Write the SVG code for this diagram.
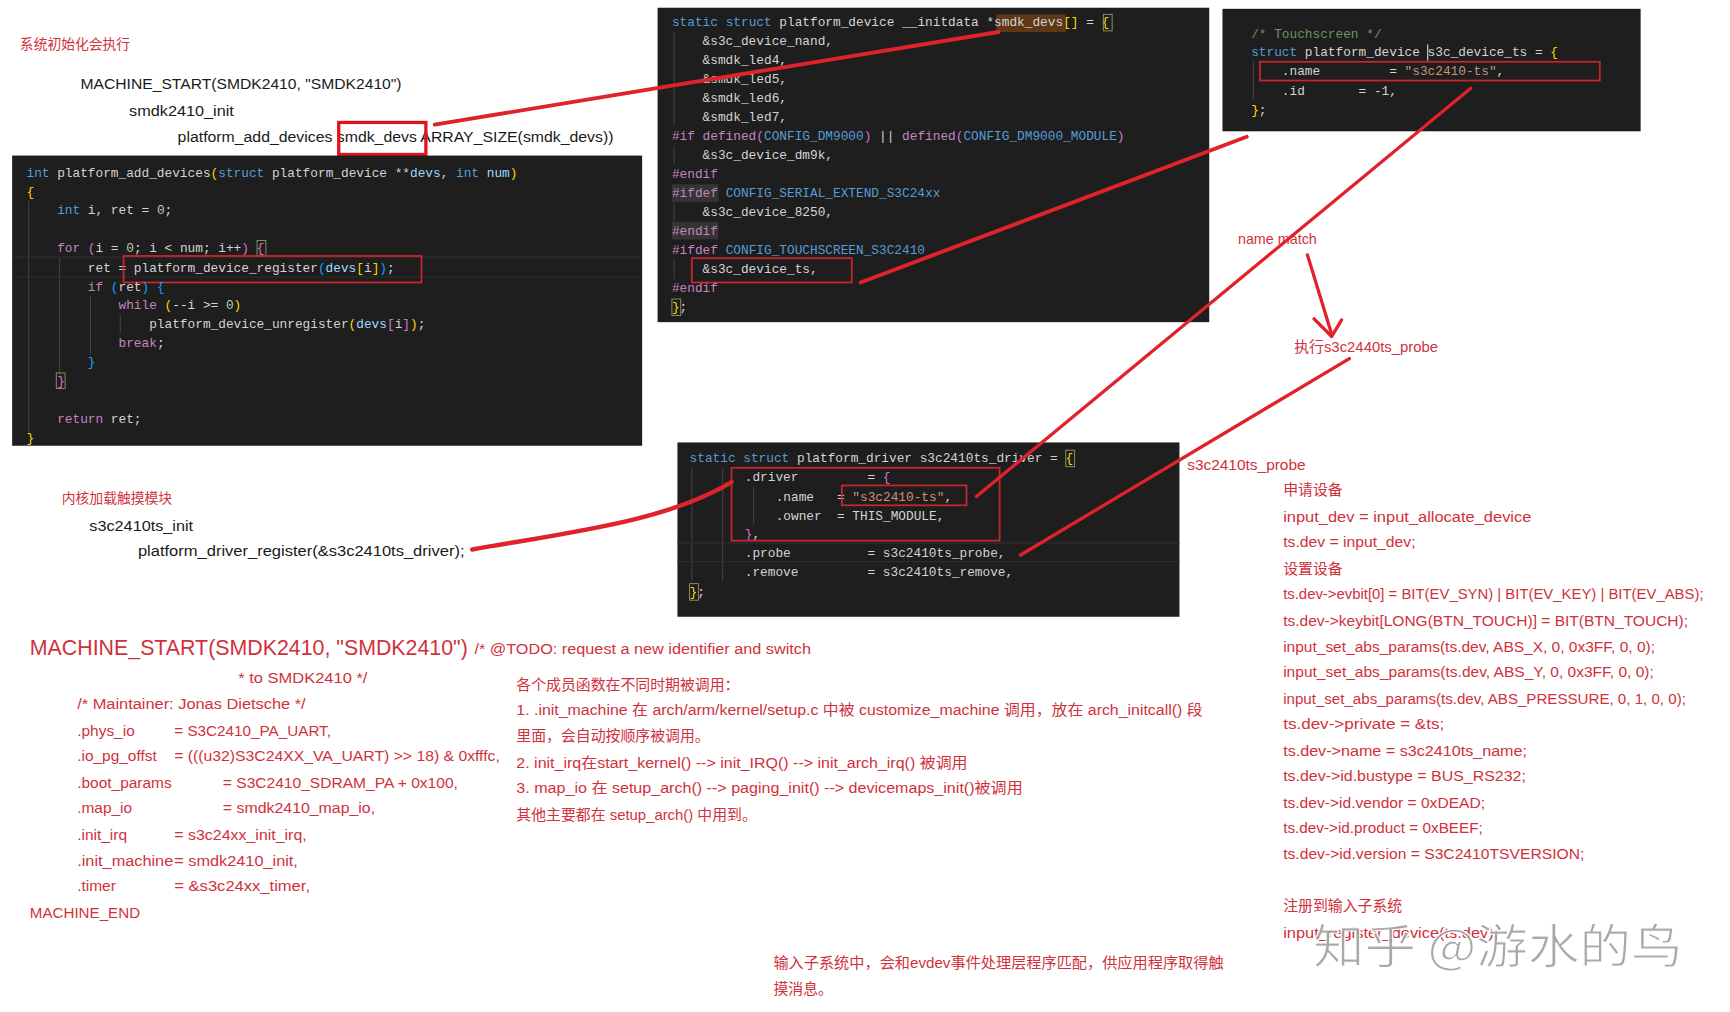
<svg xmlns="http://www.w3.org/2000/svg" width="1730" height="1012" viewBox="0 0 1730 1012">
<style>
.code{font-family:"Liberation Mono","DejaVu Sans Mono",monospace;font-size:11.6px;fill:#d4d4d4;white-space:pre}
.kw{fill:#569cd6}.ctl{fill:#c586c0}.v{fill:#9cdcfe}.num{fill:#b5cea8}.str{fill:#ce9178}.cm{fill:#6a9955}
.by{fill:#ffd700}.bp{fill:#da70d6}.bb{fill:#179fff}
.panel{fill:#1e1e1e}
.guide{stroke:#404040;stroke-width:1}
.red{font-family:"Liberation Sans","Noto Sans CJK SC",sans-serif;fill:#d0313c;font-size:13.5px}
.r14{font-size:14px}
.blk{font-family:"Liberation Sans","Noto Sans CJK SC",sans-serif;fill:#1a1a1a;font-size:14px}
.box{fill:none;stroke:#c8262e;stroke-width:1.6}
.conn{fill:none;stroke:#e0232b;stroke-linecap:round;stroke-linejoin:round;stroke-width:3.5}
.bm{fill:none;stroke:#9a9a6a;stroke-width:0.8}
</style>
<rect width="1730" height="1012" fill="#ffffff"/>
<g transform="scale(1.10332)">

<g id="intro">
<text class="red" x="18" y="44" style="font-size:12.5px">系统初始化会执行</text>
<text class="blk" x="73" y="81" textLength="291" lengthAdjust="spacingAndGlyphs">MACHINE_START(SMDK2410, "SMDK2410")</text>
<text class="blk" x="117" y="105" textLength="95" lengthAdjust="spacingAndGlyphs">smdk2410_init</text>
<text class="blk" x="161" y="129" textLength="395" lengthAdjust="spacingAndGlyphs">platform_add_devices smdk_devs ARRAY_SIZE(smdk_devs))</text>
<rect x="307" y="111" width="79" height="29" fill="none" stroke="#e0141e" stroke-width="3"/>
</g>

<g id="add-devices-code">
<rect class="panel" x="11" y="141" width="571" height="263"/>
<line class="guide" x1="26" y1="182" x2="26" y2="392"/>
<line class="guide" x1="54" y1="234" x2="54" y2="340"/>
<line class="guide" x1="82" y1="268" x2="82" y2="322"/>
<line class="guide" x1="109" y1="285" x2="109" y2="302"/>
<line x1="11" y1="233" x2="582" y2="233" stroke="#2c2c2c"/>
<line x1="11" y1="251" x2="582" y2="251" stroke="#2c2c2c"/>
<text class="code" xml:space="preserve" x="24" y="160"><tspan class="kw">int</tspan> platform_add_devices<tspan class="by">(</tspan><tspan class="kw">struct</tspan> platform_device **<tspan class="v">devs</tspan>, <tspan class="kw">int</tspan> <tspan class="v">num</tspan><tspan class="by">)</tspan></text>
<text class="code" xml:space="preserve" x="24" y="177.2"><tspan class="by">{</tspan></text>
<text class="code" xml:space="preserve" x="24" y="194.4">    <tspan class="kw">int</tspan> i, ret = <tspan class="num">0</tspan>;</text>
<text class="code" xml:space="preserve" x="24" y="228.8">    <tspan class="ctl">for</tspan> <tspan class="bp">(</tspan>i = <tspan class="num">0</tspan>; i &lt; num; i++<tspan class="bp">)</tspan> <tspan class="bp">{</tspan></text>
<rect class="bm" x="233" y="218" width="8" height="14"/>
<text class="code" xml:space="preserve" x="24" y="246.1">        ret = platform_device_register<tspan class="bb">(</tspan><tspan class="v">devs</tspan><tspan class="by">[</tspan>i<tspan class="by">]</tspan><tspan class="bb">)</tspan>;</text>
<rect x="112" y="232" width="270" height="24" class="box"/>
<text class="code" xml:space="preserve" x="24" y="263.3">        <tspan class="ctl">if</tspan> <tspan class="bb">(</tspan>ret<tspan class="bb">)</tspan> <tspan class="bb">{</tspan></text>
<text class="code" xml:space="preserve" x="24" y="280.5">            <tspan class="ctl">while</tspan> <tspan class="by">(</tspan>--i &gt;= <tspan class="num">0</tspan><tspan class="by">)</tspan></text>
<text class="code" xml:space="preserve" x="24" y="297.7">                platform_device_unregister<tspan class="by">(</tspan><tspan class="v">devs</tspan><tspan class="bp">[</tspan>i<tspan class="bp">]</tspan><tspan class="by">)</tspan>;</text>
<text class="code" xml:space="preserve" x="24" y="314.9">            <tspan class="ctl">break</tspan>;</text>
<text class="code" xml:space="preserve" x="24" y="332.1">        <tspan class="bb">}</tspan></text>
<text class="code" xml:space="preserve" x="24" y="349.3">    <tspan class="bp">}</tspan></text>
<rect class="bm" x="51" y="338" width="8" height="14"/>
<text class="code" xml:space="preserve" x="24" y="383.7">    <tspan class="ctl">return</tspan> ret;</text>
<text class="code" xml:space="preserve" x="24" y="400.9"><tspan class="by">}</tspan></text>
</g>

<g id="smdk-devs-code">
<rect class="panel" x="596" y="7" width="500" height="285"/>
<line class="guide" x1="611" y1="29" x2="611" y2="114"/>
<line class="guide" x1="611" y1="132" x2="611" y2="149"/>
<line class="guide" x1="611" y1="184" x2="611" y2="201"/>
<line class="guide" x1="611" y1="235" x2="611" y2="253"/>
<rect x="903" y="13" width="63" height="16" fill="#5e3717"/>
<rect x="609" y="167" width="42" height="16" fill="#343434"/>
<rect x="609" y="201" width="42" height="16" fill="#343434"/>
<text class="code" xml:space="preserve" x="609" y="24"><tspan class="kw">static</tspan> <tspan class="kw">struct</tspan> platform_device __initdata *smdk_devs<tspan class="by">[]</tspan> = <tspan class="by">{</tspan></text>
<rect class="bm" x="1000" y="13" width="8" height="15"/>
<text class="code" xml:space="preserve" x="609" y="41.2">    &amp;s3c_device_nand,</text>
<text class="code" xml:space="preserve" x="609" y="58.4">    &amp;smdk_led4,</text>
<text class="code" xml:space="preserve" x="609" y="75.6">    &amp;smdk_led5,</text>
<text class="code" xml:space="preserve" x="609" y="92.8">    &amp;smdk_led6,</text>
<text class="code" xml:space="preserve" x="609" y="110">    &amp;smdk_led7,</text>
<text class="code" xml:space="preserve" x="609" y="127.2"><tspan class="ctl">#if defined</tspan><tspan class="bp">(</tspan><tspan class="kw">CONFIG_DM9000</tspan><tspan class="bp">)</tspan> || <tspan class="ctl">defined</tspan><tspan class="bp">(</tspan><tspan class="kw">CONFIG_DM9000_MODULE</tspan><tspan class="bp">)</tspan></text>
<text class="code" xml:space="preserve" x="609" y="144.4">    &amp;s3c_device_dm9k,</text>
<text class="code" xml:space="preserve" x="609" y="161.6"><tspan class="ctl">#endif</tspan></text>
<text class="code" xml:space="preserve" x="609" y="178.8"><tspan class="ctl">#ifdef</tspan> <tspan class="kw">CONFIG_SERIAL_EXTEND_S3C24xx</tspan></text>
<text class="code" xml:space="preserve" x="609" y="196">    &amp;s3c_device_8250,</text>
<text class="code" xml:space="preserve" x="609" y="213.2"><tspan class="ctl">#endif</tspan></text>
<text class="code" xml:space="preserve" x="609" y="230.4"><tspan class="ctl">#ifdef</tspan> <tspan class="kw">CONFIG_TOUCHSCREEN_S3C2410</tspan></text>
<text class="code" xml:space="preserve" x="609" y="247.6">    &amp;s3c_device_ts,</text>
<rect x="627" y="234" width="145" height="22" class="box"/>
<text class="code" xml:space="preserve" x="609" y="264.8"><tspan class="ctl">#endif</tspan></text>
<text class="code" xml:space="preserve" x="609" y="282"><tspan class="by">}</tspan>;</text>
<rect class="bm" x="609" y="271" width="8" height="15"/>
</g>

<g id="device-ts-code">
<rect class="panel" x="1108" y="8" width="379" height="111"/>
<line class="guide" x1="1136" y1="56" x2="1136" y2="91"/>
<text class="code" xml:space="preserve" x="1134" y="34"><tspan class="cm">/* Touchscreen */</tspan></text>
<text class="code" xml:space="preserve" x="1134" y="51"><tspan class="kw">struct</tspan> platform_device s3c_device_ts = <tspan class="by">{</tspan></text>
<line x1="1294" y1="40" x2="1294" y2="55" stroke="#d4d4d4" stroke-width="1"/>
<text class="code" xml:space="preserve" x="1134" y="68">    .name         = <tspan class="str">"s3c2410-ts"</tspan>,</text>
<rect x="1142" y="56" width="308" height="17" class="box"/>
<text class="code" xml:space="preserve" x="1134" y="86">    .id       = -1,</text>
<text class="code" xml:space="preserve" x="1134" y="103"><tspan class="by">}</tspan>;</text>
</g>

<g id="driver-code">
<rect class="panel" x="614" y="401" width="455" height="158"/>
<line class="guide" x1="627" y1="424" x2="627" y2="527"/>
<line class="guide" x1="655" y1="424" x2="655" y2="527"/>
<line class="guide" x1="683" y1="441" x2="683" y2="475"/>
<line x1="614" y1="492" x2="1069" y2="492" stroke="#2c2c2c"/>
<line x1="614" y1="509" x2="1069" y2="509" stroke="#2c2c2c"/>
<text class="code" xml:space="preserve" x="625" y="419"><tspan class="kw">static</tspan> <tspan class="kw">struct</tspan> platform_driver s3c2410ts_driver = <tspan class="by">{</tspan></text>
<rect class="bm" x="966" y="408" width="8" height="15"/>
<text class="code" xml:space="preserve" x="675" y="436">.driver         = <tspan class="bp">{</tspan></text>
<text class="code" xml:space="preserve" x="703" y="454">.name   = <tspan class="str">"s3c2410-ts"</tspan>,</text>
<text class="code" xml:space="preserve" x="703" y="471">.owner  = THIS_MODULE,</text>
<text class="code" xml:space="preserve" x="675" y="488"><tspan class="bp">}</tspan>,</text>
<text class="code" xml:space="preserve" x="675" y="505">.probe          = s3c2410ts_probe,</text>
<text class="code" xml:space="preserve" x="675" y="522">.remove         = s3c2410ts_remove,</text>
<text class="code" xml:space="preserve" x="625" y="540"><tspan class="by">}</tspan>;</text>
<rect class="bm" x="625" y="529" width="8" height="15"/>
<rect x="663" y="424" width="243" height="66" class="box"/>
<rect x="763" y="440" width="113" height="18" class="box"/>
</g>

<g id="probe-labels">
<text class="red" x="1122" y="221" style="font-size:13px">name match</text>
<text class="red" x="1173" y="319">执行s3c2440ts_probe</text>
</g>

<g id="probe-steps">
<text class="red r14" x="1076" y="426">s3c2410ts_probe</text>
<text class="red" x="1163" y="449">申请设备</text>
<text class="red" x="1163" y="473" textLength="225" lengthAdjust="spacingAndGlyphs">input_dev = input_allocate_device</text>
<text class="red" x="1163" y="496" textLength="120" lengthAdjust="spacingAndGlyphs">ts.dev = input_dev;</text>
<text class="red" x="1163" y="520">设置设备</text>
<text class="red" x="1163" y="543" textLength="381" lengthAdjust="spacingAndGlyphs">ts.dev-&gt;evbit[0] = BIT(EV_SYN) | BIT(EV_KEY) | BIT(EV_ABS);</text>
<text class="red" x="1163" y="567" textLength="367" lengthAdjust="spacingAndGlyphs">ts.dev-&gt;keybit[LONG(BTN_TOUCH)] = BIT(BTN_TOUCH);</text>
<text class="red" x="1163" y="591" textLength="337" lengthAdjust="spacingAndGlyphs">input_set_abs_params(ts.dev, ABS_X, 0, 0x3FF, 0, 0);</text>
<text class="red" x="1163" y="614" textLength="336" lengthAdjust="spacingAndGlyphs">input_set_abs_params(ts.dev, ABS_Y, 0, 0x3FF, 0, 0);</text>
<text class="red" x="1163" y="638" textLength="365" lengthAdjust="spacingAndGlyphs">input_set_abs_params(ts.dev, ABS_PRESSURE, 0, 1, 0, 0);</text>
<text class="red" x="1163" y="661" textLength="146" lengthAdjust="spacingAndGlyphs">ts.dev-&gt;private = &amp;ts;</text>
<text class="red" x="1163" y="685" textLength="221" lengthAdjust="spacingAndGlyphs">ts.dev-&gt;name = s3c2410ts_name;</text>
<text class="red" x="1163" y="708" textLength="220" lengthAdjust="spacingAndGlyphs">ts.dev-&gt;id.bustype = BUS_RS232;</text>
<text class="red" x="1163" y="732" textLength="183" lengthAdjust="spacingAndGlyphs">ts.dev-&gt;id.vendor = 0xDEAD;</text>
<text class="red" x="1163" y="755" textLength="181" lengthAdjust="spacingAndGlyphs">ts.dev-&gt;id.product = 0xBEEF;</text>
<text class="red" x="1163" y="779" textLength="273" lengthAdjust="spacingAndGlyphs">ts.dev-&gt;id.version = S3C2410TSVERSION;</text>
<text class="red" x="1163" y="826">注册到输入子系统</text>
<text class="red" x="1163" y="850" textLength="195" lengthAdjust="spacingAndGlyphs">input_register_device(ts.dev);</text>
</g>

<g id="module-init">
<text class="red" x="56" y="456" style="font-size:12.5px">内核加载触摸模块</text>
<text class="blk" x="81" y="481" textLength="94" lengthAdjust="spacingAndGlyphs">s3c2410ts_init</text>
<text class="blk" x="125" y="504" textLength="296" lengthAdjust="spacingAndGlyphs">platform_driver_register(&amp;s3c2410ts_driver);</text>
</g>

<g id="machine-desc">
<text class="red" x="27" y="594" style="font-size:19.5px" textLength="397" lengthAdjust="spacingAndGlyphs">MACHINE_START(SMDK2410, "SMDK2410")</text>
<text class="red r14" x="430" y="593" textLength="305" lengthAdjust="spacingAndGlyphs">/* @TODO: request a new identifier and switch</text>
<text class="red r14" x="216" y="619" textLength="117" lengthAdjust="spacingAndGlyphs">* to SMDK2410 */</text>
<text class="red r14" x="70" y="643" textLength="207" lengthAdjust="spacingAndGlyphs">/* Maintainer: Jonas Dietsche */</text>
<text class="red r14" x="70" y="667">.phys_io</text>
<text class="red r14" x="158" y="667" textLength="142" lengthAdjust="spacingAndGlyphs">= S3C2410_PA_UART,</text>
<text class="red r14" x="70" y="690">.io_pg_offst</text>
<text class="red r14" x="158" y="690" textLength="295" lengthAdjust="spacingAndGlyphs">= (((u32)S3C24XX_VA_UART) &gt;&gt; 18) &amp; 0xfffc,</text>
<text class="red r14" x="70" y="714">.boot_params</text>
<text class="red r14" x="202" y="714" textLength="213" lengthAdjust="spacingAndGlyphs">= S3C2410_SDRAM_PA + 0x100,</text>
<text class="red r14" x="70" y="737">.map_io</text>
<text class="red r14" x="202" y="737" textLength="138" lengthAdjust="spacingAndGlyphs">= smdk2410_map_io,</text>
<text class="red r14" x="70" y="761">.init_irq</text>
<text class="red r14" x="158" y="761" textLength="120" lengthAdjust="spacingAndGlyphs">= s3c24xx_init_irq,</text>
<text class="red r14" x="70" y="785" textLength="87" lengthAdjust="spacingAndGlyphs">.init_machine</text>
<text class="red r14" x="158" y="785" textLength="112" lengthAdjust="spacingAndGlyphs">= smdk2410_init,</text>
<text class="red r14" x="70" y="808">.timer</text>
<text class="red r14" x="158" y="808" textLength="123" lengthAdjust="spacingAndGlyphs">= &amp;s3c24xx_timer,</text>
<text class="red r14" x="27" y="832" textLength="100" lengthAdjust="spacingAndGlyphs">MACHINE_END</text>
</g>

<g id="notes">
<text class="red" x="468" y="625">各个成员函数在不同时期被调用：</text>
<text class="red" x="468" y="648" textLength="622" lengthAdjust="spacingAndGlyphs">1. .init_machine 在 arch/arm/kernel/setup.c 中被 customize_machine 调用，放在 arch_initcall() 段</text>
<text class="red" x="468" y="672">里面，会自动按顺序被调用。</text>
<text class="red" x="468" y="696" textLength="409" lengthAdjust="spacingAndGlyphs">2. init_irq在start_kernel() --&gt; init_IRQ() --&gt; init_arch_irq() 被调用</text>
<text class="red" x="468" y="719" textLength="459" lengthAdjust="spacingAndGlyphs">3. map_io 在 setup_arch() --&gt; paging_init() --&gt; devicemaps_init()被调用</text>
<text class="red" x="468" y="743">其他主要都在 setup_arch() 中用到。</text>
<text class="red" x="701" y="877" textLength="408" lengthAdjust="spacingAndGlyphs">输入子系统中，会和evdev事件处理层程序匹配，供应用程序取得触</text>
<text class="red" x="701" y="901">摸消息。</text>
</g>

<g id="connectors">
<path class="conn" stroke-width="4" d="M394,113 L905,29"/>
<path class="conn" d="M780,256 L1130,124"/>
<path class="conn" style="stroke-width:3" d="M1333,80 L885,450"/>
<path class="conn" style="stroke-width:3" d="M1185,231 L1207,303"/>
<path class="conn" style="stroke-width:3" d="M1191,289 L1207,305 L1216,290"/>
<path class="conn" style="stroke-width:3" d="M1223,325 L925,503"/>
<path class="conn" style="stroke-width:4" d="M428,498 C520,482 605,472 663,437"/>
</g>

<g id="watermark">
<text x="1190" y="873" font-family="'Noto Sans CJK SC',sans-serif" font-size="42" fill="#9a9a9a" fill-opacity="0.85" stroke="#ffffff" stroke-width="1" textLength="335" lengthAdjust="spacingAndGlyphs">知乎 @游水的鸟</text>
</g>
</g>
</svg>
